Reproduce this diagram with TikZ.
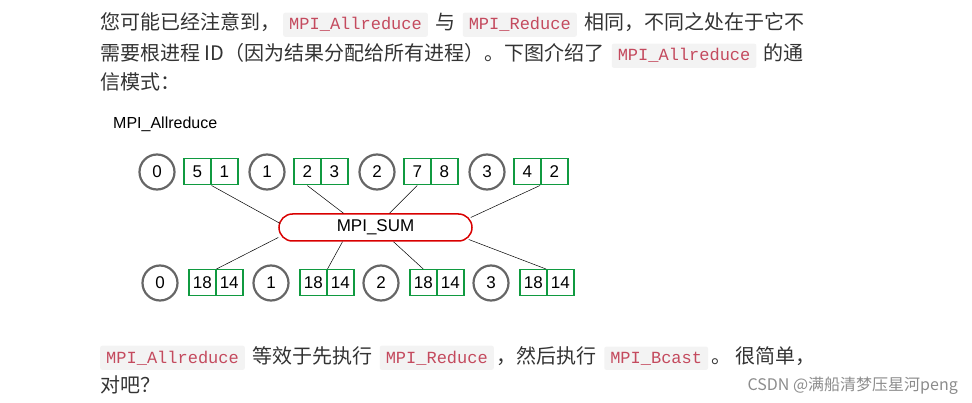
\documentclass[tikz,border=0pt]{standalone}
\usepackage{fontspec}
\setmainfont{Liberation Sans}
\newfontfamily\cjk{Noto Sans CJK SC}
\newfontfamily\cmono{Liberation Mono}
\usetikzlibrary{shapes.misc,calc}
\definecolor{txt}{HTML}{333333}
\definecolor{codefg}{HTML}{C44A5E}
\definecolor{codebg}{HTML}{F3F3F3}
\definecolor{boxg}{HTML}{109A40}
\definecolor{circg}{HTML}{666666}
\newcommand{\cd}[1]{\hspace{3pt}\tikz[baseline=(c.base)]\node[fill=codebg,rounded corners=2pt,inner xsep=6pt,inner ysep=5pt,text=codefg,font=\cmono\fontsize{17}{18}\selectfont](c){#1};\hspace{3pt}}
\begin{document}
\begin{tikzpicture}[x=1pt,y=-1pt,
  para/.style={anchor=base west,inner sep=0pt,text=txt,font=\cjk\fontsize{20}{21}\selectfont},
  proc/.style={circle,draw=circg,line width=2.2pt,minimum size=35pt,inner sep=0pt,font=\fontsize{17}{18}\selectfont},
  cell/.style={draw=boxg,line width=1.5pt,minimum width=27pt,minimum height=26pt,inner sep=0pt,font=\fontsize{17}{18}\selectfont},
  link/.style={draw=black,line width=0.5pt}]
\useasboundingbox (0,0) rectangle (972,403);
\node[para] (l1) at (100,30) {您可能已经注意到，\cd{MPI\_Allreduce} 与 \cd{MPI\_Reduce} 相同，不同之处在于它不};
\node[para] (l2) at (100,61) {需要根进程 ID（因为结果分配给所有进程）。下图介绍了 \cd{MPI\_Allreduce} 的通};
\node[para] (l3) at (100,90) {信模式：};
\node[anchor=base west,inner sep=0pt,font=\fontsize{16}{18}\selectfont] (title) at (113,129) {MPI\_Allreduce};
% top
\foreach \i/\cx/\bx/\a/\b in {0/157/183/5/1,1/267/293/2/3,2/377/403/7/8,3/487/513/4/2}{
  \node[proc] (t\i) at (\cx,172) {\i};
  \node[cell,anchor=north west] (ta\i) at (\bx,158) {\a};
  \node[cell,anchor=north west] (tb\i) at (\bx+27,158) {\b};
}
\foreach \i/\cx/\bx in {0/160/188,1/271/299,2/381/409,3/491/519}{
  \node[proc] (p\i) at (\cx,283) {\i};
  \node[cell,anchor=north west] (ba\i) at (\bx,269) {18};
  \node[cell,anchor=north west] (bb\i) at (\bx+27,269) {14};
}
\node[rounded rectangle,draw=red!85!black,line width=1.5pt,minimum width=193pt,minimum height=27pt,inner sep=0pt,fill=white,font=\fontsize{17}{18}\selectfont] (sum) at (375.5,227.5) {MPI\_SUM};
\draw[link] (ta0.south east) -- ($(sum.west)+(2,-4)$);
\draw[link] (ta1.south) -- ($(sum.north west)+(51,0)$);
\draw[link] (ta2.south) -- ($(sum.north east)+(-69,0)$);
\draw[link] (tb3.south west) -- ($(sum.east)+(-2,-10)$);
\draw[link] (ba0.north east) -- ($(sum.west)+(0,10)$);
\draw[link] (ba1.north east) -- ($(sum.south west)+(50,0)$);
\draw[link] (ba2.north) -- ($(sum.south east)+(-65,0)$);
\draw[link] (bb3.north west) -- ($(sum.east)+(-4,12)$);
\node[para] (l4) at (100,363) {\hspace{-3pt}\cd{MPI\_Allreduce} 等效于先执行 \cd{MPI\_Reduce}，然后执行 \cd{MPI\_Bcast}。 很简单，};
\node[para] (l5) at (100,392) {对吧？};
\node[anchor=base east,inner sep=0pt,text=black!45,font=\cjk\fontsize{16}{18}\selectfont] (wm) at (958,390) {CSDN @满船清梦压星河peng};
\end{tikzpicture}
\end{document}
